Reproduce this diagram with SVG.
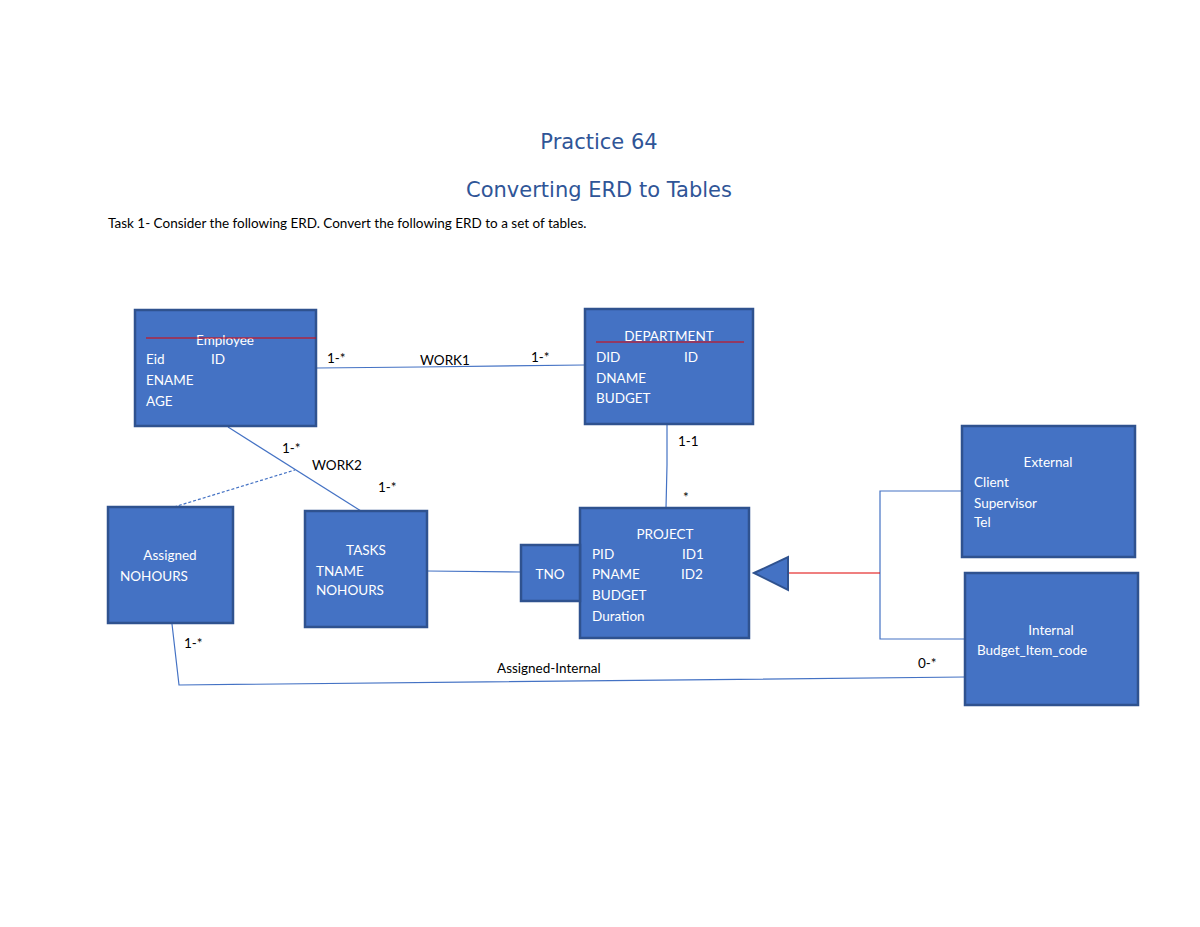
<svg xmlns="http://www.w3.org/2000/svg" width="1200" height="927" viewBox="0 0 1200 927">
<style>
.box{fill:#4472c4;stroke:#2f528f;stroke-width:2.5}
.w{fill:#fff;font-family:Lato,"Liberation Sans",sans-serif;font-size:13.5px}
.k{fill:#000;font-family:Lato,"Liberation Sans",sans-serif;font-size:13.5px}
.ln{stroke:#4472c4;stroke-width:1.2;fill:none}
.red{stroke:#e00000;stroke-width:1.2}
</style>
<rect width="1200" height="927" fill="#fff"/>
<text x="599" y="149" text-anchor="middle" font-family="'DejaVu Sans',sans-serif" font-size="21" fill="#2f5597">Practice 64</text>
<text x="599" y="197" text-anchor="middle" font-family="'DejaVu Sans',sans-serif" font-size="21" fill="#2f5597">Converting ERD to Tables</text>
<text x="108" y="228" class="k" font-size="13">Task 1- Consider the following ERD. Convert the following ERD to a set of tables.</text>
<g id="connectors">
<polyline class="ln" points="317,368 420,367 584,365"/>
<line class="ln" x1="228" y1="427" x2="361" y2="511"/>
<polyline class="ln" points="174,507 295,470" stroke-dasharray="3,2"/>
<polyline class="ln" points="667,425 667,465 666,508"/>
<line class="ln" x1="427" y1="571" x2="521" y2="572"/>
<polyline class="ln" points="962,491 880,491 880,639 965,639"/>
<line class="red" x1="788" y1="573" x2="880" y2="573"/>
<polygon points="754,573 788,557 788,590" fill="#4472c4" stroke="#2f528f" stroke-width="2"/>
<polyline class="ln" points="172,624 179,685 965,677"/>
<text x="327" y="363" class="k">1-*</text>
<text x="420" y="365" class="k">WORK1</text>
<text x="531" y="362" class="k">1-*</text>
<text x="282" y="453" class="k">1-*</text>
<text x="312" y="470" class="k">WORK2</text>
<text x="378" y="492" class="k">1-*</text>
<text x="678" y="446" class="k">1-1</text>
<text x="683" y="502" class="k">*</text>
<text x="184" y="648" class="k">1-*</text>
<text x="497" y="673" class="k">Assigned-Internal</text>
<text x="918" y="668" class="k">0-*</text>
</g>
<g id="employee"><rect class="box" x="135" y="310" width="181" height="116"/>
<text x="225" y="345" class="w" text-anchor="middle">Employee</text>
<line class="red" x1="146" y1="338" x2="316" y2="338"/>
<text x="146" y="364" class="w">Eid</text><text x="211" y="364" class="w">ID</text>
<text x="146" y="385" class="w">ENAME</text><text x="146" y="406" class="w">AGE</text></g>
<g id="department"><rect class="box" x="585" y="309" width="168" height="115"/>
<text x="669" y="341" class="w" text-anchor="middle">DEPARTMENT</text>
<line class="red" x1="596" y1="342" x2="744" y2="342"/>
<text x="596" y="362" class="w">DID</text><text x="684" y="362" class="w">ID</text>
<text x="596" y="383" class="w">DNAME</text><text x="596" y="403" class="w">BUDGET</text></g>
<g id="project"><rect class="box" x="580" y="508" width="169" height="130"/>
<text x="665" y="539" class="w" text-anchor="middle">PROJECT</text>
<text x="592" y="559" class="w">PID</text><text x="682" y="559" class="w">ID1</text>
<text x="592" y="579" class="w">PNAME</text><text x="681" y="579" class="w">ID2</text>
<text x="592" y="600" class="w">BUDGET</text><text x="592" y="621" class="w">Duration</text></g>
<g id="tno"><rect class="box" x="521" y="545" width="59" height="56"/>
<text x="550" y="579" class="w" text-anchor="middle">TNO</text></g>
<g id="tasks"><rect class="box" x="305" y="511" width="122" height="116"/>
<text x="366" y="555" class="w" text-anchor="middle">TASKS</text>
<text x="316" y="576" class="w">TNAME</text><text x="316" y="595" class="w">NOHOURS</text></g>
<g id="assigned"><rect class="box" x="108" y="507" width="125" height="116"/>
<text x="170" y="560" class="w" text-anchor="middle">Assigned</text>
<text x="120" y="581" class="w">NOHOURS</text></g>
<g id="external"><rect class="box" x="962" y="426" width="173" height="131"/>
<text x="1048" y="467" class="w" text-anchor="middle">External</text>
<text x="974" y="487" class="w">Client</text><text x="974" y="508" class="w">Supervisor</text><text x="974" y="527" class="w">Tel</text></g>
<g id="internal"><rect class="box" x="965" y="573" width="173" height="132"/>
<text x="1051" y="635" class="w" text-anchor="middle">Internal</text>
<text x="977" y="655" class="w">Budget_Item_code</text></g>
</svg>
